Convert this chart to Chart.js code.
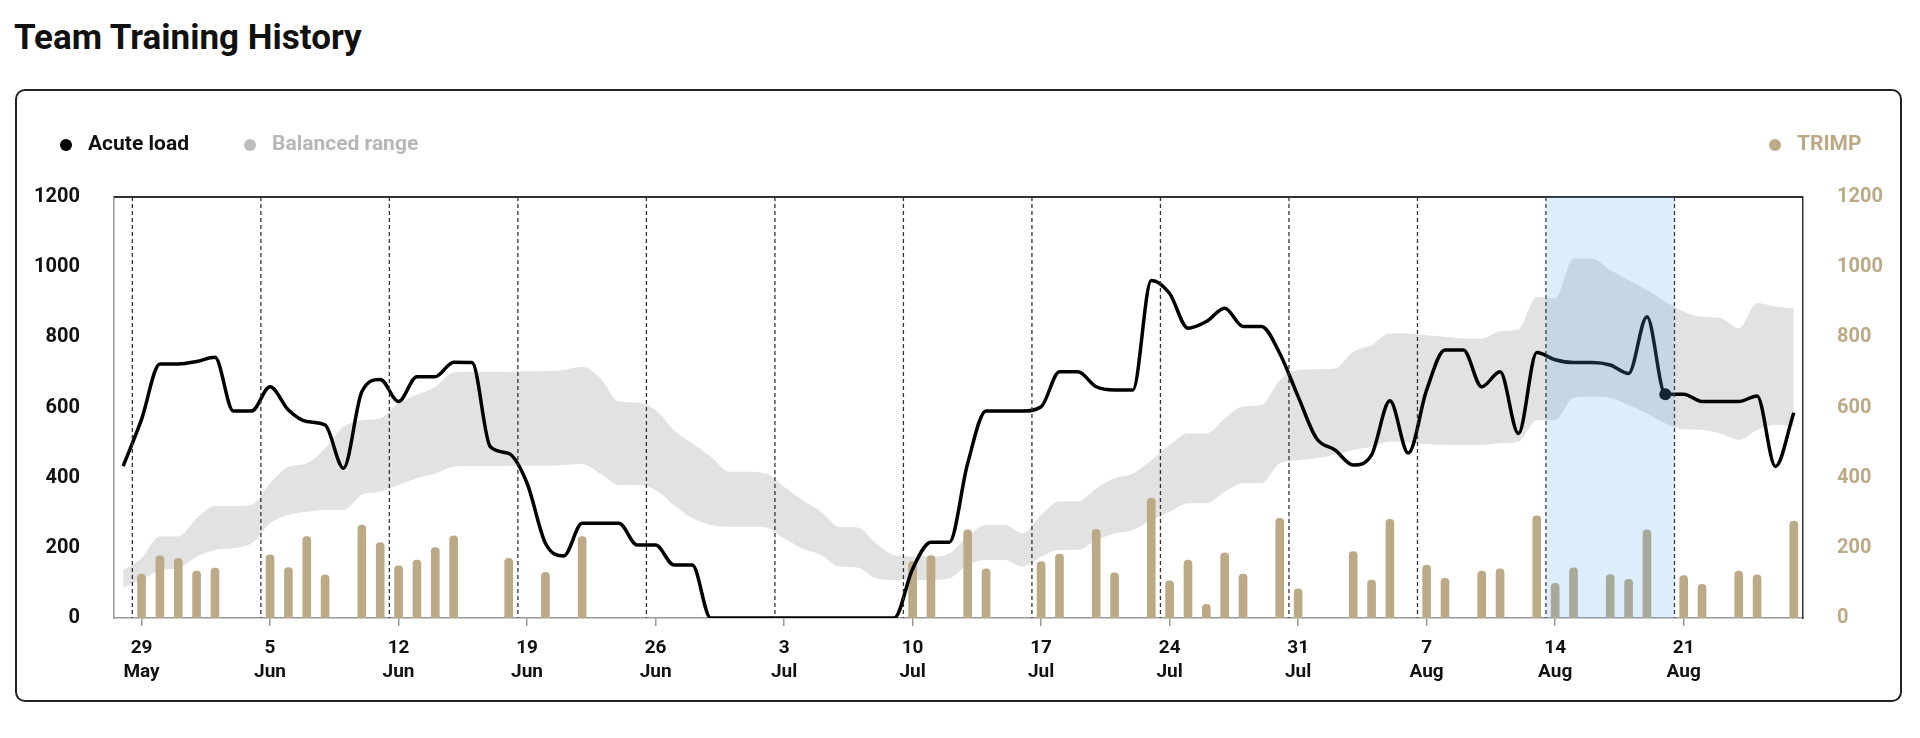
<!DOCTYPE html>
<html>
<head>
<meta charset="utf-8">
<script src="https://cdn.jsdelivr.net/npm/chart.js"></script>
<style>
  body { margin: 0; background: #fff; font-family: Roboto, sans-serif; }
  #title { position: absolute; left: 14px; top: 20px; margin: 0; font-size: 35px; font-weight: 700; line-height: 35px; color: #111; white-space: nowrap; }
  #box { position: absolute; left: 15px; top: 89px; width: 1887px; height: 613px; border: 2px solid #222; border-radius: 10px; box-sizing: border-box; }
  .legend { position: absolute; top: 131px; font-size: 21px; font-weight: 700; line-height: 25px; white-space: nowrap; }
  .legend .dot { position: absolute; left: -28px; top: 8px; width: 12px; height: 12px; border-radius: 50%; }
  #chart { position: absolute; left: 17px; top: 91px; }
</style>
</head>
<body>
<h1 id="title">Team Training History</h1>
<div id="box"></div>
<canvas id="chart" width="1883" height="609"></canvas>
<div class="legend" style="left:88px;color:#111"><span class="dot" style="background:#000"></span>Acute load</div>
<div class="legend" style="left:272px;color:#b7b7b7"><span class="dot" style="background:#bdbdbd"></span>Balanced range</div>
<div class="legend" style="left:1797px;color:#bca986"><span class="dot" style="background:#bca986"></span>TRIMP</div>
<script>
  // one entry per day, 28 May - 27 Aug
  const dates = [
    '28 May','29 May','30 May','31 May',
    '1 Jun','2 Jun','3 Jun','4 Jun','5 Jun','6 Jun','7 Jun','8 Jun','9 Jun','10 Jun',
    '11 Jun','12 Jun','13 Jun','14 Jun','15 Jun','16 Jun','17 Jun','18 Jun','19 Jun','20 Jun',
    '21 Jun','22 Jun','23 Jun','24 Jun','25 Jun','26 Jun','27 Jun','28 Jun','29 Jun','30 Jun',
    '1 Jul','2 Jul','3 Jul','4 Jul','5 Jul','6 Jul','7 Jul','8 Jul','9 Jul','10 Jul',
    '11 Jul','12 Jul','13 Jul','14 Jul','15 Jul','16 Jul','17 Jul','18 Jul','19 Jul','20 Jul',
    '21 Jul','22 Jul','23 Jul','24 Jul','25 Jul','26 Jul','27 Jul','28 Jul','29 Jul','30 Jul','31 Jul',
    '1 Aug','2 Aug','3 Aug','4 Aug','5 Aug','6 Aug','7 Aug','8 Aug','9 Aug','10 Aug',
    '11 Aug','12 Aug','13 Aug','14 Aug','15 Aug','16 Aug','17 Aug','18 Aug','19 Aug','20 Aug',
    '21 Aug','22 Aug','23 Aug','24 Aug','25 Aug','26 Aug','27 Aug'
  ];
  const weekTicks = ['29 May','5 Jun','12 Jun','19 Jun','26 Jun','3 Jul','10 Jul','17 Jul','24 Jul','31 Jul','7 Aug','14 Aug','21 Aug'];
  const highlightWeek = ['14 Aug', '20 Aug'];
  const markedDay = '20 Aug';

  const acuteLoad = [
    433,566,724,724,731,743,590,590,659,593,
    560,550,427,645,680,617,688,688,729,728,
    488,469,384,213,177,270,270,270,208,208,
    151,151,0,0,0,0,0,0,0,0,
    0,0,0,140,216,216,441,590,590,590,
    602,702,702,659,650,650,962,925,826,845,
    883,831,831,754,631,512,479,436,465,619,
    470,650,764,764,659,702,526,757,736,728,
    728,721,697,859,638,638,617,617,617,633,
    432,585
  ];
  const bandHigh = [
    137,170,232,232,284,319,319,322,384,431,
    441,484,545,564,569,612,636,659,700,702,
    702,702,703,704,707,716,683,617,614,593,
    535,498,460,417,417,412,374,336,303,260,
    258,213,179,175,175,184,232,265,265,241,
    294,332,332,370,398,412,450,493,526,526,
    569,603,607,678,707,709,711,759,778,811,
    811,806,802,797,797,817,823,916,911,1025,
    1025,992,963,935,902,873,859,855,826,898,
    888,883
  ];
  const bandLow = [
    87,108,137,142,175,194,199,213,270,294,
    303,308,308,351,360,379,398,412,431,433,
    433,434,434,434,436,439,411,379,379,365,
    322,284,265,260,260,258,227,198,180,146,
    144,113,108,108,108,113,151,165,165,146,
    175,194,194,222,241,251,279,303,327,327,
    360,384,384,441,450,455,465,479,488,503,
    500,496,493,493,493,498,503,564,564,627,
    631,627,607,583,555,538,536,526,508,536,
    551,548
  ];
  const trimp = [
    null,125,177,170,134,142,null,null,180,144,
    232,123,null,265,215,149,165,201,234,null,
    null,170,null,130,null,232,null,null,null,null,
    null,null,null,null,null,null,null,null,null,null,
    null,null,null,161,178,null,251,140,null,null,
    161,182,null,253,129,null,341,106,165,39,
    186,125,null,284,83,null,null,189,108,281,
    null,151,113,null,134,140,null,291,99,143,
    null,124,110,251,null,121,96,null,134,123,
    null,276
  ];

  const tan = '#bca986';

  // dashed week separators, top frame and highlighted week
  const weekLines = {
    id: 'weekLines',
    afterDatasetsDraw(chart) {
      const ctx = chart.ctx;
      const a = chart.chartArea;
      const x = chart.scales.x;
      const slot = x.getPixelForValue(1) - x.getPixelForValue(0);
      ctx.save();
      ctx.strokeStyle = '#333';
      ctx.lineWidth = 2;
      ctx.beginPath();
      ctx.moveTo(a.left, a.top);
      ctx.lineTo(a.right, a.top);
      ctx.stroke();
      ctx.setLineDash([4, 3]);
      ctx.lineWidth = 1.3;
      weekTicks.forEach(function(d) {
        const px = x.getPixelForValue(dates.indexOf(d)) - slot / 2;
        ctx.beginPath();
        ctx.moveTo(px, a.top);
        ctx.lineTo(px, a.bottom);
        ctx.stroke();
      });
      const x0 = x.getPixelForValue(dates.indexOf(highlightWeek[0])) - slot / 2;
      const x1 = x.getPixelForValue(dates.indexOf(highlightWeek[1])) + slot / 2;
      ctx.fillStyle = 'rgba(88,169,235,0.21)';
      ctx.fillRect(x0, a.top, x1 - x0, a.bottom - a.top);
      ctx.restore();
    }
  };

  Chart.defaults.font.family = 'Roboto';

  new Chart(document.getElementById('chart'), {
    type: 'bar',
    data: {
      labels: dates,
      datasets: [
        {
          type: 'line',
          label: 'Acute load',
          data: acuteLoad,
          yAxisID: 'y',
          order: 1,
          borderColor: '#000',
          borderWidth: 3.5,
          cubicInterpolationMode: 'monotone',
          fill: false,
          pointRadius: ctx => dates[ctx.dataIndex] === markedDay ? 6 : 0,
          pointBackgroundColor: '#000',
          pointBorderWidth: 0,
          pointHoverRadius: 0
        },
        {
          label: 'TRIMP',
          data: trimp,
          yAxisID: 'y1',
          order: 2,
          backgroundColor: tan,
          barThickness: 8,
          borderRadius: 4,
          borderSkipped: 'start'
        },
        {
          type: 'line',
          label: 'Balanced range',
          data: bandHigh,
          yAxisID: 'y',
          order: 3,
          fill: '+1',
          backgroundColor: '#e2e2e2',
          borderColor: 'rgba(0,0,0,0)',
          borderWidth: 0,
          pointRadius: 0,
          cubicInterpolationMode: 'monotone'
        },
        {
          type: 'line',
          label: 'Balanced range low',
          data: bandLow,
          yAxisID: 'y',
          order: 3,
          fill: false,
          borderColor: 'rgba(0,0,0,0)',
          borderWidth: 0,
          pointRadius: 0,
          cubicInterpolationMode: 'monotone'
        }
      ]
    },
    options: {
      responsive: false,
      animation: false,
      layout: { padding: { top: 106, left: 0, right: 0, bottom: 0 } },
      plugins: {
        legend: { display: false },
        tooltip: { enabled: false },
        filler: { drawTime: 'beforeDatasetsDraw' }
      },
      scales: {
        x: {
          offset: true,
          grid: {
            offset: false,
            drawOnChartArea: false,
            drawTicks: true,
            tickLength: 8,
            lineWidth: 1.5,
            color: ctx => weekTicks.includes(dates[ctx.index]) ? '#999' : 'rgba(0,0,0,0)'
          },
          border: { color: '#999', width: 1.5 },
          ticks: {
            autoSkip: false,
            maxRotation: 0,
            padding: 11,
            color: '#111',
            font: { size: 19, weight: 'bold', lineHeight: 1.22 },
            callback: function(value, index) {
              const d = dates[index];
              return weekTicks.includes(d) ? d.split(' ') : '';
            }
          },
          afterFit: scale => { scale.height = 82; }
        },
        y: {
          position: 'left',
          min: 0,
          max: 1200,
          grid: { display: false },
          border: { color: '#999', width: 1.5 },
          ticks: { stepSize: 200, padding: 26, color: '#111', font: { size: 20, weight: 'bold' }, callback: v => String(v) },
          afterFit: scale => { scale.width = 97; }
        },
        y1: {
          position: 'right',
          min: 0,
          max: 1200,
          grid: { display: false },
          border: { color: '#333', width: 1.5 },
          ticks: { stepSize: 200, padding: 26, color: tan, font: { size: 20, weight: 'bold' }, callback: v => String(v) },
          afterFit: scale => { scale.width = 97; }
        }
      }
    },
    plugins: [weekLines]
  });
</script>
</body>
</html>
